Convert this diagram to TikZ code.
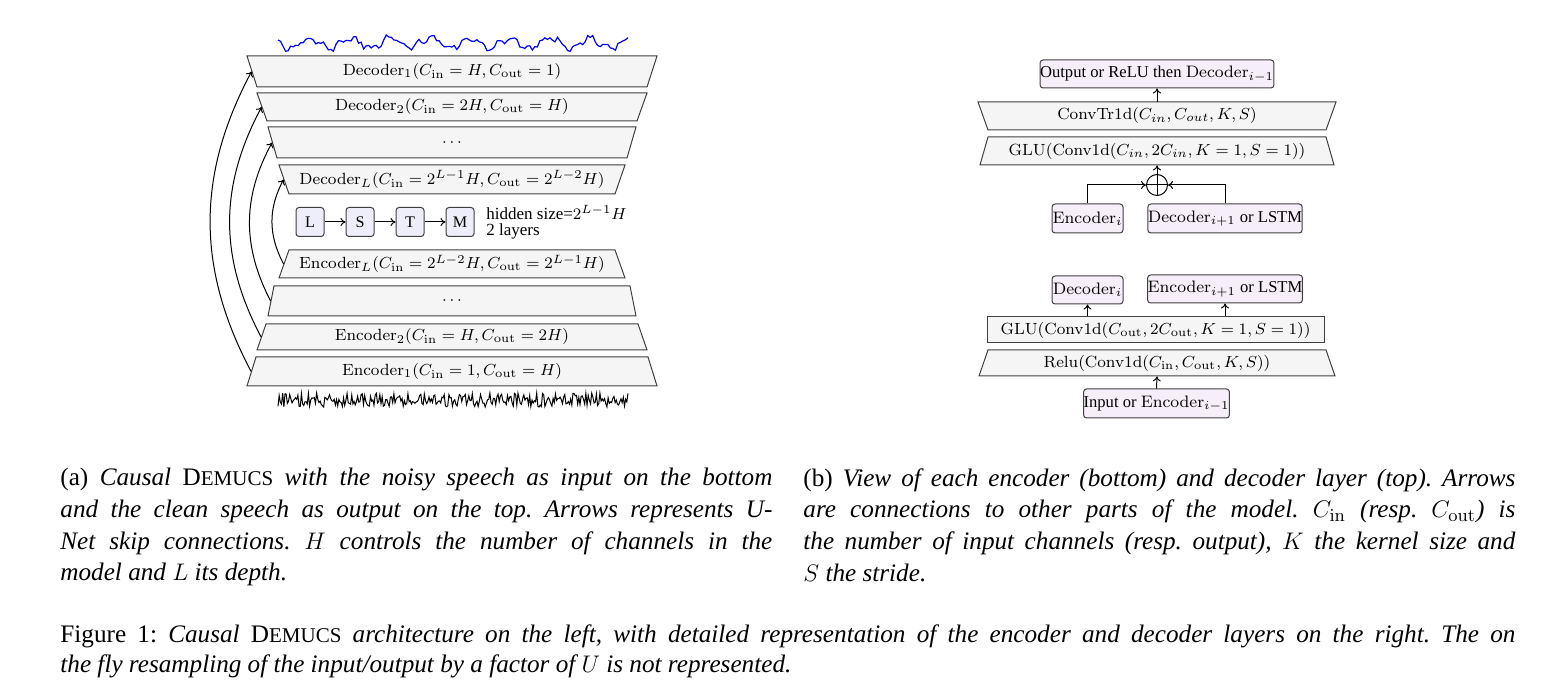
\documentclass[tikz,border=0pt]{standalone}
\usepackage[no-math]{fontspec}
\setmainfont{Liberation Serif}
\newfontfamily\lmr{Latin Modern Roman}
\usetikzlibrary{arrows.meta}
\definecolor{trapfill}{HTML}{F5F5F5}
\definecolor{boxfill}{HTML}{F6EEF8}
\definecolor{lstmfill}{HTML}{EEEEFA}
\frenchspacing
\newcommand\mytrap[7]{% name, ytop, ybot, halftop, halfbot, cx, text
  \filldraw[trap] (#6-#4,#2) -- (#6+#4,#2) -- (#6+#5,#3) -- (#6-#5,#3) -- cycle;
  \node[inner sep=0pt, minimum width={(#4+#5)*0.5pt}, minimum height={(#3-#2)*0.5pt}] (#1) at (#6,{(#2+#3)/2}) {\lmr #7};}
\begin{document}
\begin{tikzpicture}[x=0.5pt,y=-0.5pt,
  trap/.style={draw=black!75, fill=trapfill, line width=0.5pt},
  box/.style={draw=black!75, fill=boxfill, rounded corners=1.5pt, line width=0.5pt, inner sep=0pt, font=\fontsize{8.3}{10}\selectfont},
  lstm/.style={draw=black!75, fill=lstmfill, rounded corners=1.5pt, line width=0.5pt, minimum width=14pt, minimum height=14.5pt, inner sep=0pt},
  arr/.style={-{To[length=2.5pt,width=4pt]}, line width=0.5pt},
  font=\fontsize{8.1}{10}\selectfont]
\useasboundingbox (0,0) rectangle (1551,694);
% ---------- left panel
\mytrap{d1}{56}{87}{205}{195}{452}{Decoder$_1(C_{\mathrm{in}}=H, C_{\mathrm{out}}=1)$}
\mytrap{d2}{93}{121}{195}{185}{452}{Decoder$_2(C_{\mathrm{in}}=2H, C_{\mathrm{out}}=H)$}
\mytrap{d3}{127}{158}{184}{175}{452}{$\cdots$}
\mytrap{dL}{165}{194}{173}{163}{452}{Decoder$_L(C_{\mathrm{in}}=2^{L-1}H, C_{\mathrm{out}}=2^{L-2}H)$}
\mytrap{eL}{250}{278}{163}{173}{452}{Encoder$_L(C_{\mathrm{in}}=2^{L-2}H, C_{\mathrm{out}}=2^{L-1}H)$}
\mytrap{e3}{286}{316}{178}{184}{452}{$\cdots$}
\mytrap{e2}{324}{350}{186}{195}{452}{Encoder$_2(C_{\mathrm{in}}=H, C_{\mathrm{out}}=2H)$}
\mytrap{e1}{357}{386}{196}{205}{452}{Encoder$_1(C_{\mathrm{in}}=1, C_{\mathrm{out}}=H)$}
\foreach \e/\d in {e1/d1,e2/d2,e3/d3,eL/dL}
  \draw[arr] (\e.west) to[bend left=28] (\d.west);
\node[lstm] (L) at (310,222) {L};
\node[lstm] (S) at (360,222) {S};
\node[lstm] (T) at (410,222) {T};
\node[lstm] (M) at (460,222) {M};
\draw[arr] (L) -- (S); \draw[arr] (S) -- (T); \draw[arr] (T) -- (M);
\node[anchor=west, align=left, inner sep=0pt, font=\fontsize{8.5}{10}\selectfont] (hid) at (486,222) {hidden size=$2^{L-1}H$\\[-2pt]2 layers};
\pgfmathsetseed{7}
\draw[blue, line width=0.6pt] plot[domain=278:628, samples=140] (\x, {43 + 5*sin(\x*9) + 2*sin(\x*23) + 2.5*rand});
\draw[black, line width=0.5pt] plot[domain=278:628, samples=300] (\x, {400 + 7*rand});
% ---------- right panel
\node[box, minimum width=110pt, minimum height=14pt] (out) at (1157,74) {Output or ReLU then {\lmr Decoder}$_{i-1}$};
\mytrap{ct}{102}{130}{179}{169}{1157}{ConvTr1d$(C_{in}, C_{out}, K, S)$}
\mytrap{gd}{137}{165}{169}{177}{1157}{GLU(Conv1d$(C_{in}, 2C_{in}, K=1, S=1)$)}
\node[circle, draw, line width=0.5pt, minimum size=10.5pt, inner sep=0pt] (plus) at (1157,185) {};
\draw[line width=0.5pt] (plus.north) -- (plus.south) (plus.west) -- (plus.east);
\node[box, minimum width=35.5pt, minimum height=14.5pt] (enci) at (1087.5,218.5) {\lmr Encoder$_i$};
\node[box, minimum width=74pt, minimum height=14.5pt] (decp) at (1225,218.5) {{\lmr Decoder}$_{i+1}$ or LSTM};
\draw[arr] (enci.north) |- (plus.west);
\draw[arr] (decp.north) |- (plus.east);
\draw[arr] (plus.north) -- (gd.south);
\draw[arr] (ct.north) -- (out.south);
\node[box, minimum width=35.5pt, minimum height=14pt] (deci) at (1087.5,290) {\lmr Decoder$_i$};
\node[box, minimum width=74pt, minimum height=14pt] (encp) at (1225,289) {{\lmr Encoder}$_{i+1}$ or LSTM};
\node[draw=black!75, fill=trapfill, line width=0.5pt, minimum width=168.5pt, minimum height=13pt, inner sep=0pt] (ge) at (1155.5,330) {\lmr GLU(Conv1d$(C_{\mathrm{out}}, 2C_{\mathrm{out}}, K=1, S=1)$)};
\mytrap{re}{350}{376}{169}{178}{1157}{Relu(Conv1d$(C_{\mathrm{in}}, C_{\mathrm{out}}, K, S)$)}
\node[box, minimum width=69.5pt, minimum height=14.5pt] (inp) at (1156.5,403.5) {Input or {\lmr Encoder}$_{i-1}$};
\draw[arr] (inp.north) -- (re.south);
\draw[arr] (ge.north -| deci.south) -- (deci.south);
\draw[arr] (ge.north -| encp.south) -- (encp.south);
% ---------- captions
\newcommand\dem{D{\fontsize{10.5}{12}\selectfont EMUCS}}
\node[anchor=north west, inner sep=0pt, text width=356pt, align=justify, font=\fontsize{12.6}{15.85}\selectfont] (capa) at (60,468)
 {(a) \textit{Causal} \dem{} \textit{with the noisy speech as input on the bottom\linebreak and the clean speech as output on the top. Arrows represents U-\linebreak Net skip connections. $H$ controls the number of channels in the\linebreak model and $L$ its depth.}};
\node[anchor=north west, inner sep=0pt, text width=356pt, align=justify, font=\fontsize{12.6}{15.85}\selectfont] (capb) at (803,468)
 {(b) \textit{View of each encoder (bottom) and decoder layer (top). Arrows\linebreak are connections to other parts of the model. $C_{\mathrm{in}}$ (resp. $C_{\mathrm{out}}$) is\linebreak the number of input channels (resp. output), $K$ the kernel size and\linebreak $S$ the stride.}};
\node[anchor=north west, inner sep=0pt, text width=727.5pt, align=justify, font=\fontsize{12.6}{15.1}\selectfont] (capf) at (60,624)
 {Figure 1: \textit{Causal} \dem{} \textit{architecture on the left, with detailed representation of the encoder and decoder layers on the right. The on\linebreak the fly resampling of the input/output by a factor of $U$ is not represented.}};
\end{tikzpicture}
\end{document}
